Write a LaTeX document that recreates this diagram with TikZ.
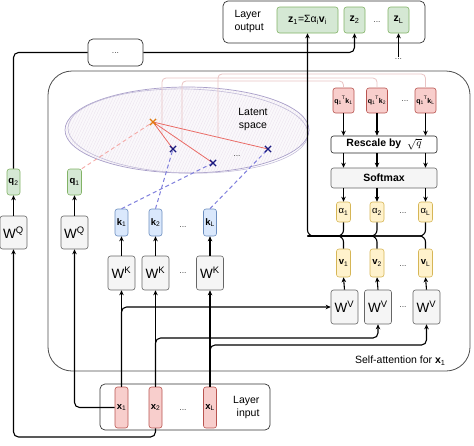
\documentclass[tikz,border=0pt]{standalone}
\usepackage{fontspec}
\setmainfont{Liberation Sans}
\usetikzlibrary{arrows.meta,shapes.misc,patterns.meta,calc}
\definecolor{gfill}{HTML}{D5E8D4}\definecolor{gline}{HTML}{82B366}
\definecolor{rfill}{HTML}{F8CECC}\definecolor{rline}{HTML}{B85450}
\definecolor{bfill}{HTML}{DAE8FC}\definecolor{bline}{HTML}{6C8EBF}
\definecolor{yfill}{HTML}{FFF2CC}\definecolor{yline}{HTML}{D6B656}
\definecolor{grfill}{HTML}{F5F5F5}\definecolor{grline}{HTML}{666666}
\definecolor{lav}{HTML}{A99FC9}
\definecolor{hatchc}{HTML}{EBE2EE}
\definecolor{ellfill}{HTML}{FAF8FB}
\definecolor{redl}{HTML}{EA6B66}
\definecolor{paler}{HTML}{E9C3C3}
\definecolor{dashred}{HTML}{F4A9A6}
\definecolor{dashblue}{HTML}{7E7EDC}
\definecolor{xorange}{HTML}{E07A10}
\definecolor{xnavy}{HTML}{1A1A80}
\begin{document}
\begin{tikzpicture}[x=1pt,y=-1pt,
  font=\fontsize{10.5}{13}\selectfont,
  box/.style={draw, rounded corners=2.5pt, inner sep=0pt, line width=0.6pt, align=center},
  gbox/.style={box, fill=gfill, draw=gline},
  rbox/.style={box, fill=rfill, draw=rline},
  bbox/.style={box, fill=bfill, draw=bline},
  ybox/.style={box, fill=yfill, draw=yline},
  wbox/.style={box, fill=grfill, draw=grline},
  lframe/.style={draw=black!80, line width=0.7pt, rounded corners=5pt, inner sep=0pt},
  vec/.style={font=\fontsize{9.5}{10}\selectfont},
  wlab/.style={font=\fontsize{13.5}{14}\selectfont},
  dots/.style={font=\fontsize{8.5}{8}\selectfont, text=black!75, inner sep=1pt},
  conn/.style={line width=1.1pt, draw=black},
  arr/.style={conn, -{Stealth[length=5pt,width=4.5pt]}},
  pale/.style={draw=paler, line width=0.8pt, rounded corners=4pt},
  qdash/.style={draw=dashred, line width=0.9pt, dash pattern=on 4pt off 3pt},
  kdash/.style={draw=dashblue, line width=1pt, dash pattern=on 4pt off 3pt},
  xmark/.style={cross out, draw, line width=1.2pt, minimum size=5pt, inner sep=0pt},
]
\useasboundingbox (0,0) rectangle (474,445);

% inner frame
\draw[draw=black!70, line width=0.8pt, rounded corners=24pt] (48,71) rectangle (470,371);
\node[anchor=east] (satext) at (449,361) {Self-attention for \textbf{x}\textsubscript{1}};

% latent space ellipse
\fill[ellfill] (187,130) ellipse [x radius=122pt, y radius=43pt];
\fill[pattern={Lines[angle=65,distance=2.6pt,line width=0.35pt]}, pattern color=hatchc] (187,130) ellipse [x radius=122pt, y radius=43pt];
\draw[lav, line width=0.7pt] (187,130) ellipse [x radius=122pt, y radius=43pt];
\draw[lav!70, line width=0.6pt, rotate around={-1.5:(187,130)}] (188,131) ellipse [x radius=120pt, y radius=42pt];
\node[align=center] (latent) at (253,119) {Latent\\space};
\node[dots] (ldots) at (237,156) {...};

\coordinate (p0) at (153,122);
\coordinate (p1) at (173,149);
\coordinate (p2) at (213,163);
\coordinate (p3) at (268,149);
\coordinate (m1) at ($(p0)!0.45!(p1)$);
\coordinate (m2) at ($(p0)!0.483!(p2)$);
\coordinate (m3) at ($(p0)!0.565!(p3)$);

% top boxes
\node[lframe, minimum width=202pt, minimum height=42pt] (lout) at (324,22) {};
\node[anchor=west, align=left] (louttext) at (231,21) {Layer\\output};
\node[gbox, minimum width=61pt, minimum height=26pt, font=\fontsize{10.5}{11}\selectfont] (z1) at (307.5,20) {\textbf{z}\textsubscript{1}=Σα\textsubscript{i}\textbf{v}\textsubscript{i}};
\node[gbox, minimum width=21pt, minimum height=26pt, font=\fontsize{10.5}{11}\selectfont] (z2) at (354.5,20) {\textbf{z}\textsubscript{2}};
\node[dots] (zdots) at (377,22) {...};
\node[gbox, minimum width=21pt, minimum height=26pt, font=\fontsize{10.5}{11}\selectfont] (zL) at (398.5,20) {\textbf{z}\textsubscript{L}};
\node[dots] (zLdots) at (398.5,59) {...};
\node[lframe, minimum width=55pt, minimum height=27pt] (dotsbox) at (115.5,52.5) {};
\node[dots] (dotsboxtxt) at (115.5,53) {...};

% pale connectors from dot products
\node[rbox, minimum width=21pt, minimum height=25pt, font=\fontsize{7}{7}\selectfont] (qk1) at (343.5,100.5) {\textbf{q}\textsubscript{1}\textsuperscript{T}\textbf{k}\textsubscript{1}};
\node[rbox, minimum width=21pt, minimum height=25pt, font=\fontsize{7}{7}\selectfont] (qk2) at (377,100.5) {\textbf{q}\textsubscript{1}\textsuperscript{T}\textbf{k}\textsubscript{2}};
\node[dots] (qkdots) at (405,101) {...};
\node[rbox, minimum width=21pt, minimum height=25pt, font=\fontsize{7}{7}\selectfont] (qkL) at (425.5,100.5) {\textbf{q}\textsubscript{1}\textsuperscript{T}\textbf{k}\textsubscript{L}};

\draw[pale] (m1) -- (m1 |- 0,78) -| (qk2.north);
\draw[pale] (m2) -- (m2 |- 0,81) -| (qk1.north);
\draw[pale] (m3) -- (m3 |- 0,74) -| (qkL.north);

% red lines
\draw[redl, line width=0.8pt] (p0) -- (p1);
\draw[redl, line width=0.8pt] (p0) -- (p2);
\draw[redl, line width=0.8pt] (p0) -- (p3);

% left column boxes
\node[wbox, minimum width=27pt, minimum height=33pt, wlab] (wq2) at (13.5,232.5) {W\textsuperscript{Q}};
\node[gbox, minimum width=13pt, minimum height=26pt, vec] (q2) at (13.5,182) {\textbf{q}\textsubscript{2}};
\node[wbox, minimum width=27pt, minimum height=33pt, wlab] (wq1) at (74.5,232.5) {W\textsuperscript{Q}};
\node[gbox, minimum width=14pt, minimum height=26pt, vec] (q1) at (74.5,182) {\textbf{q}\textsubscript{1}};

\node[bbox, minimum width=13pt, minimum height=27pt, vec] (k1) at (121.5,222.5) {\textbf{k}\textsubscript{1}};
\node[bbox, minimum width=13pt, minimum height=27pt, vec] (k2) at (155.5,222.5) {\textbf{k}\textsubscript{2}};
\node[dots] (kdots) at (183,227) {...};
\node[bbox, minimum width=13pt, minimum height=27pt, vec] (kL) at (210,222.5) {\textbf{k}\textsubscript{L}};

\node[wbox, minimum width=27pt, minimum height=34pt, wlab] (wk1) at (121.5,273) {W\textsuperscript{K}};
\node[wbox, minimum width=27pt, minimum height=34pt, wlab] (wk2) at (155.5,273) {W\textsuperscript{K}};
\node[dots] (wkdots) at (183,273) {...};
\node[wbox, minimum width=27pt, minimum height=34pt, wlab] (wkL) at (210,273) {W\textsuperscript{K}};

% dashed links into latent space
\draw[qdash] (q1.north east) -- (p0);
\draw[kdash] (k1.north) -- (p2);
\draw[kdash] (k2.north) -- (p1);
\draw[kdash] (kL.north) -- (p3);
\node[xmark, draw=xorange] (x0) at (p0) {};
\node[xmark, draw=xnavy] (x1m) at (p1) {};
\node[xmark, draw=xnavy] (x2m) at (p2) {};
\node[xmark, draw=xnavy] (x3m) at (p3) {};

% right column
\node[box, fill=white, draw=black!85, minimum width=106pt, minimum height=17pt, font=\fontsize{10.5}{11}\selectfont] (resc) at (384,144.5) {\textbf{Rescale by} \ $\sqrt{q}$};
\node[wbox, minimum width=106pt, minimum height=20pt, font=\fontsize{10.5}{11}\selectfont] (soft) at (384,178) {\textbf{Softmax}};

\node[ybox, minimum width=14pt, minimum height=20pt, vec] (al1) at (343.5,212) {α\textsubscript{1}};
\node[ybox, minimum width=14pt, minimum height=20pt, vec] (al2) at (377,212) {α\textsubscript{2}};
\node[dots] (aldots) at (403,213) {...};
\node[ybox, minimum width=14pt, minimum height=20pt, vec] (alL) at (425.5,212) {α\textsubscript{L}};

\node[ybox, minimum width=14pt, minimum height=28pt, vec] (v1) at (343.5,263) {\textbf{v}\textsubscript{1}};
\node[ybox, minimum width=14pt, minimum height=28pt, vec] (v2) at (377,263) {\textbf{v}\textsubscript{2}};
\node[dots] (vdots) at (403,266) {...};
\node[ybox, minimum width=14pt, minimum height=28pt, vec] (vL) at (425.5,263) {\textbf{v}\textsubscript{L}};

\node[wbox, minimum width=27pt, minimum height=34pt, wlab] (wv1) at (344.5,307) {W\textsuperscript{V}};
\node[wbox, minimum width=27pt, minimum height=34pt, wlab] (wv2) at (378,307) {W\textsuperscript{V}};
\node[dots] (wvdots) at (403,307) {...};
\node[wbox, minimum width=27pt, minimum height=34pt, wlab] (wvL) at (426.5,307) {W\textsuperscript{V}};

% layer input
\node[lframe, minimum width=170pt, minimum height=46pt] (lin) at (185,407) {};
\node[anchor=east, align=right] (lintext) at (263,407.5) {Layer\\input};
\node[rbox, minimum width=13pt, minimum height=41pt, vec] (x1) at (121.5,407.5) {\textbf{x}\textsubscript{1}};
\node[rbox, minimum width=13pt, minimum height=41pt, vec] (x2) at (155.5,407.5) {\textbf{x}\textsubscript{2}};
\node[dots] (xdots) at (183,410) {...};
\node[rbox, minimum width=13pt, minimum height=41pt, vec] (xL) at (210,407.5) {\textbf{x}\textsubscript{L}};

% connectors: inputs
\draw[arr] (x1.north) -- (wk1.south);
\draw[arr] (x2.north) -- (wk2.south);
\draw[arr] (xL.north) -- (wkL.south);
\draw[arr, rounded corners=5pt] (x1.north) |- (wv1.west);
\draw[arr, rounded corners=5pt] (x2.north) |- (378,338) -- (wv2.south);
\draw[arr, rounded corners=5pt] (xL.north) |- (426.5,345) -- (wvL.south);
\draw[arr, rounded corners=5pt] (x1.west) -| (wq1.south);
\draw[arr, rounded corners=5pt] (x2.south) |- (13.5,437) -- (wq2.south);

% W -> vectors
\draw[arr] (wq1.north) -- (q1.south);
\draw[arr] (wq2.north) -- (q2.south);
\draw[arr] (wk1.north) -- (k1.south);
\draw[arr] (wk2.north) -- (k2.south);
\draw[arr] (wkL.north) -- (kL.south);
\draw[arr] (wv1.north) -- (v1.south);
\draw[arr] (wv2.north) -- (v2.south);
\draw[arr] (wvL.north) -- (vL.south);

% q2 path to other attention block
\draw[conn, rounded corners=5pt] (q2.north) |- (dotsbox.west);
\draw[arr, rounded corners=5pt] (dotsbox.east) -| (z2.south);
\draw[arr] (zLdots.north) -- (zL.south);

% attention column
\draw[arr] (qk1.south) -- (qk1.south |- resc.north);
\draw[arr] (qk2.south) -- (qk2.south |- resc.north);
\draw[arr] (qkL.south) -- (qkL.south |- resc.north);
\draw[arr] (qk1.south |- resc.south) -- (qk1.south |- soft.north);
\draw[arr] (qk2.south |- resc.south) -- (qk2.south |- soft.north);
\draw[arr] (qkL.south |- resc.south) -- (qkL.south |- soft.north);
\draw[arr] (al1.north |- soft.south) -- (al1.north);
\draw[arr] (al2.north |- soft.south) -- (al2.north);
\draw[arr] (alL.north |- soft.south) -- (alL.north);

% weighted sum bus
\coordinate (bus) at (307.5,236);
\draw[conn, rounded corners=6pt] (al2.south) |- (bus);
\draw[conn, rounded corners=6pt] (alL.south) |- (bus);
\draw[conn, rounded corners=6pt] (v1.north) |- (bus);
\draw[conn, rounded corners=6pt] (v2.north) |- (bus);
\draw[conn, rounded corners=6pt] (vL.north) |- (bus);
\draw[arr, rounded corners=6pt] (al1.south) |- (bus) -- (z1.south);
\end{tikzpicture}
\end{document}
